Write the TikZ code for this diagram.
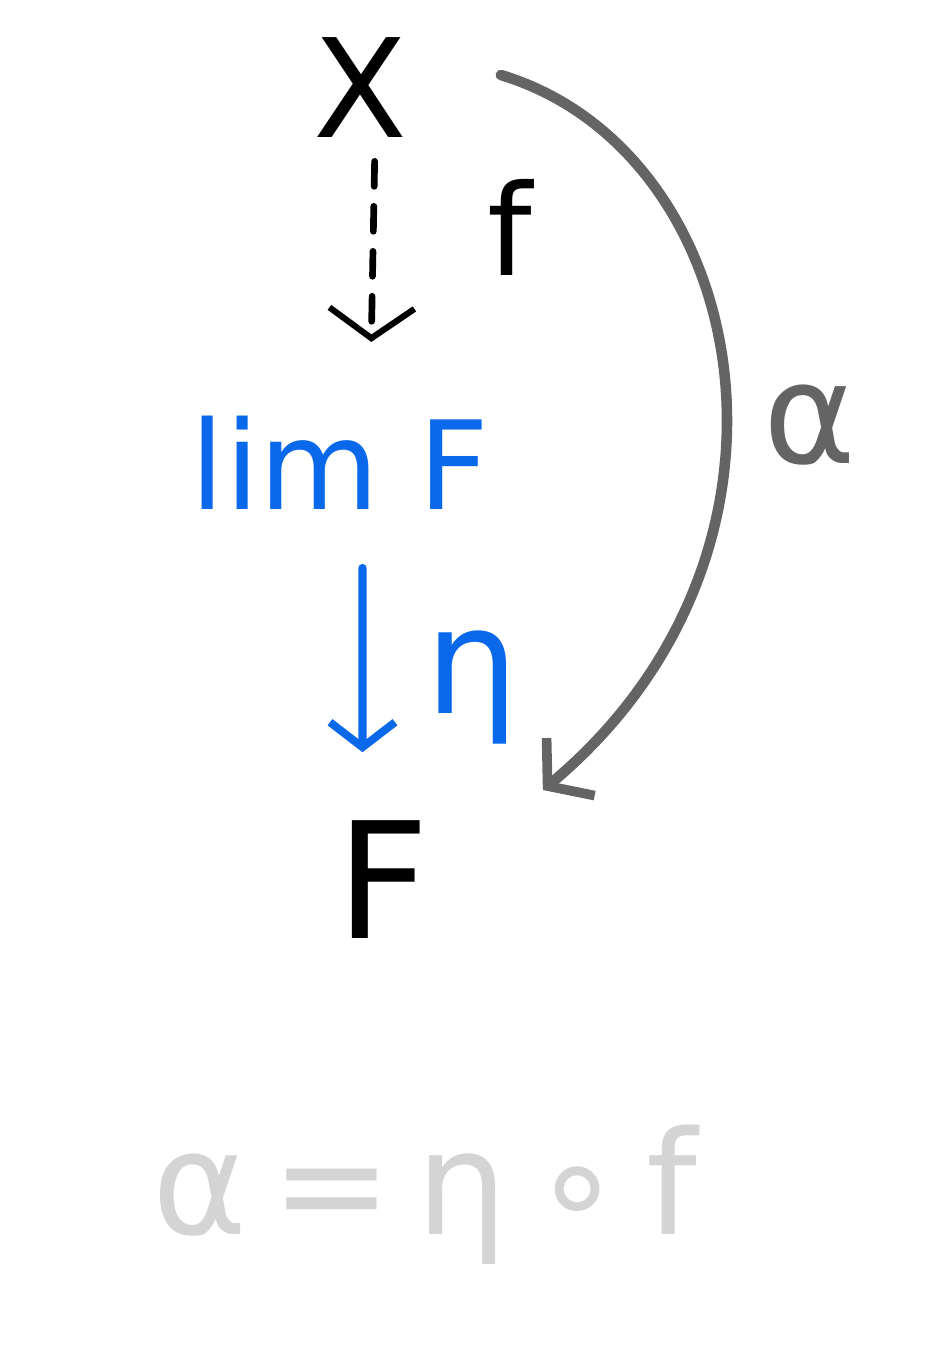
\documentclass[tikz,border=0pt]{standalone}
\usepackage{fontspec}
\setmainfont{DejaVu Sans}
\usepackage{xcolor}
\usetikzlibrary{positioning, arrows.meta, calc}
\definecolor{limblue}{RGB}{10,105,235}
\definecolor{arcgray}{RGB}{100,100,100}
\definecolor{eqgray}{RGB}{212,212,212}
\tikzset{
  objnode/.style={
    inner sep=2pt, text=black,
    font=\fontsize{78}{86}\selectfont
  },
  limnode/.style={objnode, text=limblue, font=\fontsize{70}{76}\selectfont},
  labelnode/.style={
    inner sep=1pt,
    font=\fontsize{72}{80}\selectfont
  },
  dasharrow/.style={
    -{Straight Barb[length=6mm, width=17mm, line width=3.5pt]},
    draw=black, line width=3.8pt, dash pattern=on 5mm off 4mm,
    line cap=round
  },
  limarrow/.style={
    -{Straight Barb[length=5mm, width=13mm, line width=4.5pt]},
    draw=limblue, line width=4.8pt, line cap=round
  },
  arcarrow/.style={
    -{Straight Barb[length=6mm, width=15mm, line width=5.5pt]},
    draw=arcgray, line width=6pt, line cap=round
  }
}

\begin{document}
\begin{tikzpicture}
  \useasboundingbox (0,0) rectangle (18.58,-26.9);

  \node[objnode] (x) at (7.2,-1.75) {X};
  \node[limnode] (lim) at (6.8,-9.25) {lim F};
  \node[objnode, font=\fontsize{92}{100}\selectfont] (f) at (7.65,-17.6) {F};

  \node[labelnode] (flab) at (10.2,-4.55) {f};
  \node[labelnode, text=limblue, font=\fontsize{84}{90}\selectfont] (etalab) at (9.45,-13.75) {η};
  \node[labelnode, text=arcgray, font=\fontsize{80}{88}\selectfont] (alab) at (16.2,-8.5) {α};

  \node[labelnode, text=eqgray, font=\fontsize{82}{90}\selectfont] (eq) at (8.5,-23.9)
    {α\,=\,η\,∘\,f};

  \draw[dasharrow, shorten <=4mm, shorten >=1.4cm] ([xshift=3mm]x.south) -- ([xshift=6mm]lim.north);
  \draw[limarrow, shorten <=11mm, shorten >=13mm] ([xshift=4.5mm]lim.south) -- ([xshift=-4mm]f.north);
  \draw[arcarrow] ([xshift=1.8cm,yshift=2.5mm]x.east)
    .. controls (15.0,-3.0) and (16.6,-11.0) .. ([xshift=2.2cm,yshift=1.8cm]f.east);
\end{tikzpicture}
\end{document}
